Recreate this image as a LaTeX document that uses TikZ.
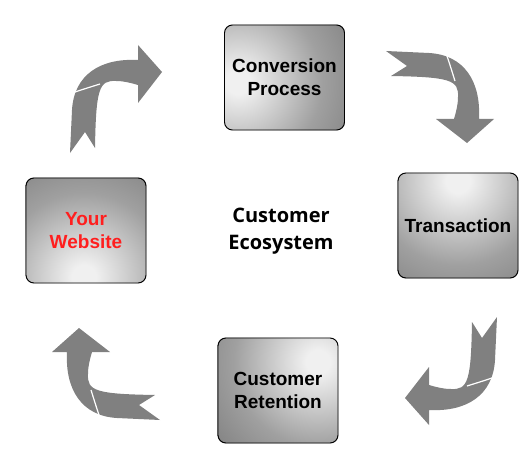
\documentclass[tikz,border=0pt]{standalone}
\usepackage{fontspec}
\usetikzlibrary{backgrounds}
\newfontfamily\labelfont{Liberation Sans}
\newfontfamily\titlefont{Open Sans}
\definecolor{arrowgray}{RGB}{128,128,128}
\definecolor{boxlight}{RGB}{240,240,240}
\definecolor{boxmid}{RGB}{160,160,160}
\definecolor{boxdark}{RGB}{104,104,104}
\definecolor{webred}{RGB}{255,30,30}
\pgfdeclareradialshading{glow}{\pgfpoint{0bp}{0bp}}{color(0bp)=(boxlight); color(2bp)=(boxlight); color(14bp)=(boxmid); color(29bp)=(boxdark); color(50bp)=(boxdark)}
\tikzset{
  box/.style={draw, line width=0.9pt, rounded corners=8pt, minimum width=120pt,
    minimum height=105pt, align=center,
    font=\labelfont\bfseries\fontsize{19}{23}\selectfont},
  ribbon/.style={fill=arrowgray},
  crease/.style={draw=white, line width=1.2pt}
}
% one curved ribbon arrow, tail below, head pointing right
\newcommand{\ribbonarrow}{%
  \fill[ribbon] (-46,54) -- (-31,33) -- (-21,49)
    .. controls (-20,-10) and (-17,-19) .. (0,-18)
    .. controls (8,-18) and (15,-16) .. (22,-14)
    -- (22,4) -- (46,-27) -- (22,-54) -- (22,-39)
    .. controls (-16,-41) and (-42,-24) .. (-44,11) -- cycle;
  \draw[crease] (-44,-6) .. controls (-32,-10) .. (-16,-15);
}
% shaded face of a box, lit from one spot
\newcommand{\boxface}[2]{%
  \begin{scope}
    \clip[rounded corners=8pt] (#1.south west) rectangle (#1.north east);
    \shade[shading=glow] #2 ++(-150pt,-150pt) rectangle ++(300pt,300pt);
  \end{scope}
}
\begin{document}
\begin{tikzpicture}[x=1pt, y=-1pt]
    \useasboundingbox (0,0) rectangle (520,452);
    % boxes
    \node[box] (conv) at (284.5,77.5) {Conversion\\Process};
    \node[box] (trans) at (458,225.5) {Transaction};
    \node[box] (ret) at (278,390.5) {Customer\\Retention};
    \node[box, text=webred] (web) at (86,230.5) {Your\\Website};
    \node[font=\titlefont\bfseries\fontsize{20}{27}\selectfont, align=center] (eco) at (281,231) {Customer\\Ecosystem};
    \begin{scope}[on background layer]
        \boxface{conv}{(238,82)}
        \boxface{trans}{(458,181)}
        \boxface{ret}{(318,362)}
        \boxface{web}{(84,277)}
    \end{scope}
    % arrows
    \begin{scope}[shift={(116,99)}]
        \ribbonarrow
    \end{scope}
    \begin{scope}[shift={(440,97)}, rotate=-90]
        \ribbonarrow
    \end{scope}
    \begin{scope}[shift={(451,371)}, rotate=-180]
        \ribbonarrow
    \end{scope}
    \begin{scope}[shift={(106,374)}, rotate=-270]
        \ribbonarrow
    \end{scope}
\end{tikzpicture}
\end{document}
